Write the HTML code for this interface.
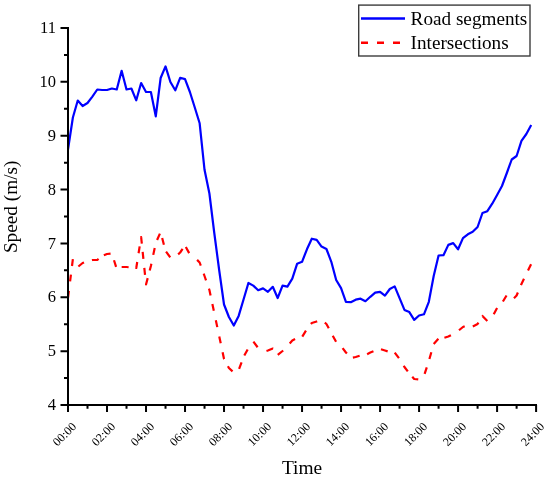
<!DOCTYPE html><html><head><meta charset="utf-8"><style>html,body{margin:0;padding:0;background:#fff;width:550px;height:481px;overflow:hidden}svg{display:block}text{font-family:"Liberation Serif","Times New Roman",serif;fill:#000}</style></head><body>
<svg width="550" height="481" viewBox="0 0 550 481">
<rect width="550" height="481" fill="#fff"/>
<path d="M68.03,297.73 L68.90,290.79 M70.07,281.48 L70.93,274.53 M72.00,266.00 L72.87,259.05 M78.39,266.48 L82.63,263.00 L84.03,262.43 M91.96,260.09 L92.38,260.00 L97.26,260.00 L98.57,258.93 M103.84,255.30 L107.01,254.00 L110.57,253.64 M113.99,260.21 L116.09,266.88 M121.65,267.00 L126.51,267.00 L128.64,267.22 M135.38,267.91 L136.26,268.00 L137.21,261.96 M138.58,253.27 L139.67,246.35 M141.07,237.43 L141.14,237.00 L141.81,243.53 M142.67,251.90 L143.38,258.86 M144.31,267.86 L145.02,274.82 M145.98,284.11 L146.02,284.50 L147.70,278.11 M149.71,270.49 L150.89,266.00 L151.38,263.69 M153.25,254.86 L154.71,248.01 M157.08,240.05 L159.91,233.65 M162.17,237.96 L163.91,244.74 M166.05,251.71 L170.25,257.31 M178.15,254.34 L180.15,252.50 L182.60,248.98 M185.83,246.98 L189.16,253.14 M197.09,259.87 L199.65,262.50 L200.78,265.63 M203.69,273.68 L204.53,276.00 L206.02,280.28 M208.95,288.70 L209.41,290.00 L210.57,295.50 M212.37,303.98 L213.82,310.82 M215.83,320.28 L217.28,327.13 M219.26,336.50 L220.72,343.35 M222.60,352.24 L224.03,359.00 L224.08,359.08 M227.92,366.18 L228.91,368.00 L232.53,371.34 M239.10,368.83 L241.56,362.27 M244.31,355.57 L247.65,349.41 M253.39,341.63 L257.59,347.23 M266.49,350.94 L267.92,350.50 L272.79,348.50 L272.94,348.69 M277.76,354.93 L282.55,351.00 L283.11,350.42 M289.72,343.40 L292.30,340.50 L295.07,339.08 M302.30,336.59 L305.95,330.61 M310.96,324.04 L311.80,323.00 L316.68,321.50 L317.21,321.33 M324.81,322.67 L326.43,324.00 L328.77,328.31 M332.74,335.65 L336.07,341.80 M342.60,348.05 L345.93,352.50 L346.89,353.58 M352.89,357.57 L355.69,357.00 L359.65,355.78 M367.11,354.15 L370.31,352.50 L373.45,351.21 M380.98,349.28 L384.94,350.50 L387.67,351.34 M394.73,352.54 L398.93,358.14 M403.70,365.78 L404.45,367.00 L407.79,371.46 M412.26,376.81 L414.20,379.00 L418.25,379.42 M424.62,373.95 L426.78,367.29 M429.41,358.97 L431.34,352.24 M433.72,343.99 L438.36,338.75 M444.41,337.71 L448.33,336.50 L450.91,335.18 M459.00,330.25 L462.96,327.00 L464.69,326.29 M472.81,326.45 L477.59,324.00 L478.44,322.61 M482.44,316.04 L482.46,316.00 L487.32,320.98 M493.74,314.19 L497.07,308.04 M502.90,301.46 L506.55,295.49 M513.98,298.18 L516.60,295.50 L517.87,292.50 M520.98,285.17 L521.47,284.00 L523.98,278.85 M528.01,270.59 L531.08,264.30" fill="none" stroke="#ff0000" stroke-width="2.2" stroke-linejoin="round"/>
<polyline points="68.00,149.50 72.88,117.50 77.75,100.50 82.63,106.00 87.50,103.00 92.38,96.60 97.26,89.50 102.13,90.00 107.01,90.00 111.88,88.50 116.76,89.50 121.64,70.80 126.51,89.50 131.39,88.50 136.26,100.30 141.14,83.00 146.02,92.00 150.89,92.00 155.77,116.30 160.64,78.00 165.52,66.40 170.40,82.00 175.27,90.30 180.15,77.80 185.03,79.10 189.90,92.00 194.78,107.50 199.65,123.30 204.53,169.80 209.41,193.50 214.28,233.00 219.16,270.00 224.03,304.50 228.91,317.00 233.79,325.50 238.66,315.90 243.54,299.50 248.41,283.00 253.29,285.60 258.17,290.20 263.04,288.40 267.92,291.80 272.79,286.80 277.67,298.00 282.55,285.60 287.42,286.60 292.30,278.70 297.17,263.70 302.05,261.80 306.93,249.30 311.80,238.70 316.68,239.90 321.55,246.60 326.43,249.00 331.31,261.80 336.18,280.00 341.06,288.10 345.93,301.80 350.81,302.20 355.69,299.70 360.56,298.70 365.44,301.20 370.31,296.80 375.19,292.70 380.07,291.80 384.94,295.60 389.82,289.00 394.69,286.40 399.57,298.10 404.45,309.90 409.32,312.10 414.20,319.90 419.07,315.50 423.95,314.30 428.83,301.80 433.70,276.00 438.58,255.50 443.46,255.20 448.33,244.90 453.21,243.10 458.08,249.30 462.96,238.10 467.84,234.30 472.71,231.80 477.59,227.00 482.46,213.00 487.34,211.20 492.22,203.70 497.09,195.00 501.97,186.00 506.84,173.00 511.72,159.50 516.60,156.00 521.47,140.80 526.35,134.00 531.22,125.00" fill="none" stroke="#0000ff" stroke-width="2.2" stroke-linejoin="round"/>
<path d="M68,27 V405 H537 M60.5,405.00 H68 M60.5,351.14 H68 M60.5,297.29 H68 M60.5,243.43 H68 M60.5,189.57 H68 M60.5,135.71 H68 M60.5,81.86 H68 M60.5,28.00 H68 M64,378.07 H68 M64,324.21 H68 M64,270.36 H68 M64,216.50 H68 M64,162.64 H68 M64,108.79 H68 M64,54.93 H68 M68.00,405 V412 M107.01,405 V412 M146.02,405 V412 M185.03,405 V412 M224.03,405 V412 M263.04,405 V412 M302.05,405 V412 M341.06,405 V412 M380.07,405 V412 M419.08,405 V412 M458.08,405 V412 M497.09,405 V412 M536.10,405 V412 M87.50,405 V408.7 M126.51,405 V408.7 M165.52,405 V408.7 M204.53,405 V408.7 M243.54,405 V408.7 M282.55,405 V408.7 M321.55,405 V408.7 M360.56,405 V408.7 M399.57,405 V408.7 M438.58,405 V408.7 M477.59,405 V408.7 M516.60,405 V408.7" fill="none" stroke="#000" stroke-width="2"/>
<text x="56" y="410.20" font-size="16.5" text-anchor="end">4</text>
<text x="56" y="356.34" font-size="16.5" text-anchor="end">5</text>
<text x="56" y="302.49" font-size="16.5" text-anchor="end">6</text>
<text x="56" y="248.63" font-size="16.5" text-anchor="end">7</text>
<text x="56" y="194.77" font-size="16.5" text-anchor="end">8</text>
<text x="56" y="140.91" font-size="16.5" text-anchor="end">9</text>
<text x="56" y="87.06" font-size="16.5" text-anchor="end">10</text>
<text x="56" y="33.20" font-size="16.5" text-anchor="end">11</text>
<text x="76.90" y="427.30" font-size="12" text-anchor="end" transform="rotate(-45 76.90 427.30)">00:00</text>
<text x="115.91" y="427.30" font-size="12" text-anchor="end" transform="rotate(-45 115.91 427.30)">02:00</text>
<text x="154.92" y="427.30" font-size="12" text-anchor="end" transform="rotate(-45 154.92 427.30)">04:00</text>
<text x="193.93" y="427.30" font-size="12" text-anchor="end" transform="rotate(-45 193.93 427.30)">06:00</text>
<text x="232.93" y="427.30" font-size="12" text-anchor="end" transform="rotate(-45 232.93 427.30)">08:00</text>
<text x="271.94" y="427.30" font-size="12" text-anchor="end" transform="rotate(-45 271.94 427.30)">10:00</text>
<text x="310.95" y="427.30" font-size="12" text-anchor="end" transform="rotate(-45 310.95 427.30)">12:00</text>
<text x="349.96" y="427.30" font-size="12" text-anchor="end" transform="rotate(-45 349.96 427.30)">14:00</text>
<text x="388.97" y="427.30" font-size="12" text-anchor="end" transform="rotate(-45 388.97 427.30)">16:00</text>
<text x="427.98" y="427.30" font-size="12" text-anchor="end" transform="rotate(-45 427.98 427.30)">18:00</text>
<text x="466.98" y="427.30" font-size="12" text-anchor="end" transform="rotate(-45 466.98 427.30)">20:00</text>
<text x="505.99" y="427.30" font-size="12" text-anchor="end" transform="rotate(-45 505.99 427.30)">22:00</text>
<text x="545.00" y="427.30" font-size="12" text-anchor="end" transform="rotate(-45 545.00 427.30)">24:00</text>
<text x="302" y="474" font-size="19.4" text-anchor="middle">Time</text>
<text transform="translate(17.0 206.8) rotate(-90)" font-size="19.3" text-anchor="middle">Speed (m/s)</text>
<rect x="358.7" y="5.1" width="171.3" height="50.9" fill="none" stroke="#3c3c3c" stroke-width="1.4"/>
<line x1="361" y1="18.6" x2="405" y2="18.6" stroke="#0000ff" stroke-width="2.5"/>
<line x1="361" y1="42.7" x2="401" y2="42.7" stroke="#ff0000" stroke-width="2.5" stroke-dasharray="7,9"/>
<text x="410.6" y="25" font-size="19.2">Road segments</text>
<text x="410.6" y="49.2" font-size="19.2">Intersections</text>
</svg></body></html>
